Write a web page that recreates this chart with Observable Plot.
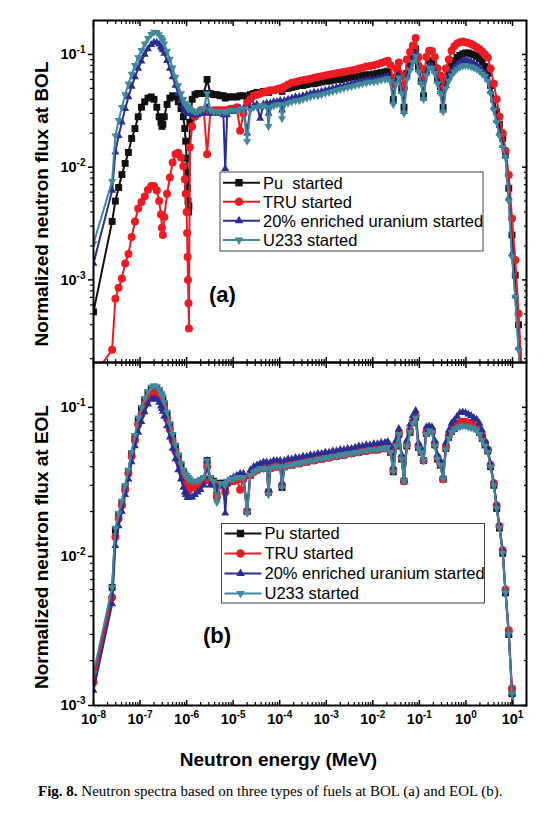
<!DOCTYPE html>
<html><head><meta charset="utf-8">
<script src="https://cdn.jsdelivr.net/npm/d3@7"></script>
<script src="https://cdn.jsdelivr.net/npm/@observablehq/plot@0.6"></script>
<style>
body{margin:0;background:#fff;}
#wrap{position:relative;width:545px;height:815px;font-family:"Liberation Sans",Arial,sans-serif;overflow:hidden;}
.ytitle{position:absolute;width:360px;text-align:center;font-weight:bold;font-size:19px;line-height:22px;transform:rotate(-90deg);white-space:nowrap;}
.xtitle{position:absolute;left:0;width:545px;text-align:center;font-weight:bold;font-size:19px;line-height:22px;}
.plabel{position:absolute;font-weight:bold;font-size:22px;line-height:26px;}
.caption{position:absolute;left:38px;top:783px;font-family:"Liberation Serif","Times New Roman",serif;font-size:15px;white-space:nowrap;}
</style></head><body><div id="wrap"></div><script>
// log10 of neutron energy (MeV) for each group point
const logEnergy = [-8.00,-7.60,-7.53,-7.46,-7.39,-7.32,-7.25,-7.18,-7.11,-7.04,
 -6.97,-6.90,-6.83,-6.76,-6.70,-6.64,-6.59,-6.55,-6.53,-6.51,
 -6.48,-6.42,-6.36,-6.30,-6.24,-6.18,-6.12,-6.07,-6.04,-6.02,
 -6.00,-5.99,-5.98,-5.97,-5.96,-5.95,-5.93,-5.88,-5.82,-5.76,
 -5.70,-5.63,-5.56,-5.49,-5.42,-5.35,-5.28,-5.21,-5.17,-5.13,
 -5.06,-4.99,-4.92,-4.85,-4.78,-4.70,-4.63,-4.56,-4.49,-4.42,
 -4.35,-4.28,-4.24,-4.20,-4.13,-4.06,-3.99,-3.95,-3.90,-3.82,
 -3.74,-3.66,-3.58,-3.50,-3.42,-3.34,-3.26,-3.18,-3.10,-3.02,
 -2.94,-2.86,-2.78,-2.70,-2.62,-2.54,-2.46,-2.38,-2.30,-2.22,
 -2.14,-2.06,-1.98,-1.90,-1.82,-1.74,-1.68,-1.62,-1.56,-1.50,
 -1.44,-1.38,-1.33,-1.27,-1.20,-1.14,-1.08,-1.02,-0.96,-0.91,
 -0.85,-0.79,-0.73,-0.67,-0.61,-0.55,-0.49,-0.43,-0.37,-0.31,
 -0.25,-0.19,-0.13,-0.07,-0.01,0.05,0.11,0.17,0.23,0.29,
 0.35,0.41,0.47,0.53,0.60,0.66,0.72,0.79,0.85,0.92,
 0.99,1.06,1.13,1.20];

// (a) BOL
const bolPu = [0.00052,0.0033,0.005,0.0066,0.0086,0.0108,0.0135,0.018,0.022,0.028,
 0.034,0.038,0.041,0.042,0.040,0.034,0.028,0.025,0.023,0.024,
 0.028,0.036,0.041,0.043,0.042,0.038,0.033,0.028,0.022,0.017,
 0.012,0.009,0.0065,0.005,0.004,0.0045,0.025,0.040,0.044,0.045,
 0.045,0.045,0.060,0.045,0.044,0.044,0.043,0.043,0.041,0.042,
 0.042,0.042,0.042,0.043,0.043,0.040,0.044,0.045,0.046,0.046,
 0.047,0.047,0.046,0.048,0.048,0.049,0.049,0.047,0.050,0.050,
 0.051,0.052,0.053,0.053,0.054,0.055,0.055,0.056,0.057,0.058,
 0.058,0.059,0.060,0.060,0.061,0.062,0.063,0.063,0.064,0.065,
 0.066,0.066,0.067,0.068,0.069,0.070,0.071,0.062,0.040,0.062,
 0.068,0.050,0.034,0.068,0.083,0.098,0.112,0.078,0.058,0.043,
 0.072,0.088,0.086,0.076,0.062,0.052,0.034,0.058,0.070,0.080,
 0.088,0.094,0.098,0.101,0.103,0.103,0.101,0.099,0.096,0.092,
 0.086,0.078,0.068,0.053,0.040,0.031,0.024,0.018,0.013,0.0065,
 0.0025,0.0011,0.0004,0.00015];
const bolTRU = [0.00014,0.00024,0.00068,0.00085,0.00103,0.0014,0.0017,0.0024,0.0033,0.0043,
 0.0049,0.0055,0.0063,0.0068,0.0068,0.0062,0.005,0.0038,0.0029,0.0025,
 0.0036,0.0058,0.0081,0.011,0.013,0.0134,0.0122,0.0102,0.0078,0.0058,
 0.0040,0.0026,0.0016,0.001,0.00062,0.00037,0.015,0.023,0.028,0.030,
 0.032,0.032,0.013,0.031,0.032,0.032,0.032,0.032,0.031,0.032,
 0.033,0.033,0.034,0.021,0.030,0.037,0.040,0.043,0.044,0.045,
 0.046,0.047,0.047,0.048,0.048,0.049,0.050,0.049,0.052,0.054,
 0.056,0.057,0.058,0.059,0.060,0.061,0.062,0.063,0.064,0.065,
 0.066,0.067,0.068,0.069,0.070,0.071,0.072,0.073,0.075,0.076,
 0.078,0.079,0.080,0.082,0.084,0.086,0.088,0.080,0.055,0.075,
 0.085,0.065,0.050,0.090,0.105,0.120,0.140,0.095,0.075,0.060,
 0.095,0.108,0.107,0.095,0.075,0.065,0.050,0.075,0.090,0.108,
 0.118,0.125,0.128,0.130,0.128,0.126,0.124,0.120,0.116,0.112,
 0.106,0.100,0.094,0.075,0.055,0.040,0.028,0.020,0.014,0.0085,
 0.0035,0.0015,0.0005,0.00015];
const bolU20 = [0.0014,0.0062,0.0136,0.019,0.025,0.033,0.042,0.052,0.063,0.075,
 0.087,0.100,0.112,0.122,0.128,0.128,0.123,0.117,0.113,0.109,
 0.102,0.088,0.075,0.063,0.053,0.045,0.039,0.035,0.033,0.032,
 0.031,0.031,0.030,0.030,0.030,0.030,0.030,0.029,0.029,0.029,
 0.030,0.030,0.034,0.030,0.030,0.030,0.030,0.029,0.0097,0.029,
 0.031,0.031,0.032,0.033,0.033,0.020,0.034,0.035,0.036,0.027,
 0.036,0.037,0.030,0.037,0.038,0.038,0.039,0.032,0.039,0.040,
 0.041,0.042,0.042,0.043,0.044,0.045,0.046,0.046,0.047,0.048,
 0.049,0.050,0.051,0.052,0.053,0.054,0.055,0.056,0.057,0.058,
 0.059,0.060,0.060,0.061,0.062,0.063,0.064,0.060,0.038,0.058,
 0.065,0.047,0.031,0.063,0.076,0.089,0.101,0.073,0.057,0.041,
 0.068,0.080,0.079,0.071,0.058,0.047,0.032,0.053,0.062,0.070,
 0.076,0.081,0.085,0.088,0.089,0.088,0.086,0.084,0.081,0.077,
 0.072,0.067,0.060,0.047,0.034,0.026,0.020,0.0155,0.0125,0.0053,
 0.0017,0.00072,0.00025,0.0001];
const bolU233 = [0.0021,0.0075,0.019,0.026,0.034,0.044,0.055,0.067,0.080,0.094,
 0.109,0.124,0.139,0.151,0.158,0.157,0.150,0.142,0.137,0.132,
 0.124,0.107,0.091,0.076,0.063,0.053,0.045,0.040,0.037,0.036,
 0.035,0.034,0.034,0.034,0.033,0.033,0.033,0.032,0.031,0.031,
 0.032,0.033,0.045,0.032,0.031,0.031,0.031,0.031,0.031,0.031,
 0.032,0.032,0.032,0.033,0.033,0.017,0.032,0.034,0.034,0.035,
 0.035,0.034,0.023,0.034,0.035,0.036,0.036,0.027,0.036,0.037,
 0.038,0.039,0.039,0.040,0.041,0.042,0.043,0.043,0.044,0.045,
 0.046,0.047,0.048,0.049,0.050,0.051,0.052,0.053,0.054,0.055,
 0.056,0.057,0.057,0.058,0.059,0.060,0.061,0.058,0.036,0.055,
 0.062,0.045,0.030,0.060,0.072,0.085,0.097,0.070,0.055,0.040,
 0.065,0.076,0.075,0.068,0.055,0.045,0.031,0.050,0.058,0.065,
 0.070,0.074,0.077,0.079,0.080,0.079,0.078,0.076,0.074,0.071,
 0.067,0.064,0.058,0.045,0.032,0.025,0.019,0.015,0.0123,0.005,
 0.0016,0.0007,0.00024,0.0001];

// (b) EOL
const eolPu = [0.0015,0.0062,0.015,0.019,0.023,0.029,0.037,0.049,0.063,0.082,
 0.097,0.111,0.124,0.133,0.136,0.134,0.128,0.121,0.117,0.113,
 0.105,0.090,0.076,0.064,0.054,0.047,0.041,0.037,0.035,0.034,
 0.033,0.032,0.032,0.032,0.031,0.031,0.031,0.031,0.031,0.031,
 0.032,0.033,0.044,0.033,0.032,0.026,0.031,0.031,0.029,0.031,
 0.032,0.033,0.033,0.033,0.034,0.020,0.035,0.037,0.038,0.039,
 0.039,0.039,0.027,0.039,0.040,0.040,0.040,0.029,0.040,0.041,
 0.041,0.042,0.042,0.043,0.043,0.044,0.044,0.045,0.045,0.046,
 0.046,0.047,0.047,0.048,0.048,0.049,0.049,0.050,0.050,0.051,
 0.051,0.052,0.052,0.052,0.053,0.053,0.054,0.050,0.037,0.055,
 0.066,0.045,0.032,0.055,0.068,0.079,0.086,0.054,0.050,0.044,
 0.067,0.071,0.069,0.056,0.045,0.041,0.033,0.053,0.063,0.069,
 0.072,0.075,0.076,0.077,0.077,0.076,0.075,0.074,0.072,0.068,
 0.062,0.056,0.051,0.040,0.030,0.021,0.0155,0.0105,0.0057,0.003,
 0.0012,0.0005,0.0002,0.0001];
const eolTRU = [0.00143,0.0053,0.0135,0.018,0.022,0.028,0.036,0.047,0.060,0.077,
 0.090,0.104,0.116,0.123,0.125,0.123,0.118,0.112,0.108,0.104,
 0.097,0.084,0.071,0.060,0.051,0.044,0.038,0.034,0.032,0.031,
 0.030,0.029,0.028,0.028,0.028,0.028,0.029,0.029,0.029,0.030,
 0.031,0.032,0.040,0.032,0.031,0.025,0.030,0.030,0.027,0.031,
 0.032,0.032,0.033,0.028,0.033,0.020,0.035,0.037,0.038,0.039,
 0.039,0.039,0.027,0.039,0.040,0.040,0.040,0.030,0.040,0.041,
 0.041,0.042,0.042,0.043,0.043,0.044,0.044,0.045,0.045,0.046,
 0.046,0.047,0.047,0.048,0.048,0.049,0.049,0.050,0.050,0.051,
 0.051,0.052,0.052,0.052,0.053,0.053,0.054,0.051,0.038,0.056,
 0.067,0.046,0.032,0.056,0.070,0.080,0.088,0.055,0.051,0.044,
 0.068,0.072,0.070,0.057,0.046,0.042,0.033,0.054,0.064,0.070,
 0.074,0.077,0.079,0.080,0.080,0.079,0.078,0.076,0.074,0.070,
 0.064,0.058,0.052,0.041,0.031,0.022,0.016,0.011,0.006,0.0032,
 0.0013,0.00055,0.0002,0.0001];
const eolU20 = [0.00126,0.0048,0.0118,0.016,0.020,0.026,0.033,0.043,0.055,0.068,
 0.080,0.093,0.105,0.113,0.115,0.113,0.108,0.102,0.098,0.094,
 0.087,0.075,0.063,0.053,0.045,0.038,0.033,0.029,0.027,0.026,
 0.026,0.026,0.025,0.025,0.025,0.025,0.025,0.025,0.026,0.027,
 0.028,0.030,0.044,0.030,0.030,0.029,0.030,0.030,0.0195,0.031,
 0.033,0.034,0.035,0.036,0.036,0.020,0.038,0.040,0.041,0.042,
 0.043,0.043,0.028,0.043,0.044,0.044,0.044,0.031,0.044,0.045,
 0.045,0.046,0.046,0.047,0.047,0.048,0.048,0.049,0.049,0.050,
 0.050,0.051,0.051,0.052,0.052,0.053,0.053,0.054,0.055,0.055,
 0.056,0.056,0.057,0.057,0.058,0.058,0.059,0.055,0.040,0.060,
 0.072,0.048,0.033,0.060,0.077,0.088,0.095,0.058,0.053,0.045,
 0.074,0.075,0.074,0.060,0.048,0.044,0.034,0.058,0.070,0.078,
 0.082,0.087,0.092,0.093,0.092,0.090,0.088,0.085,0.083,0.078,
 0.070,0.060,0.053,0.042,0.031,0.022,0.016,0.011,0.0058,0.003,
 0.0012,0.0005,0.0002,0.0001];
const eolU233 = [0.00165,0.0062,0.0155,0.0195,0.0235,0.030,0.038,0.050,0.065,0.085,
 0.100,0.115,0.128,0.137,0.140,0.138,0.132,0.125,0.121,0.117,
 0.108,0.093,0.078,0.066,0.056,0.048,0.042,0.038,0.036,0.035,
 0.035,0.034,0.034,0.034,0.033,0.033,0.033,0.032,0.032,0.032,
 0.033,0.034,0.044,0.034,0.032,0.023,0.031,0.031,0.030,0.032,
 0.033,0.033,0.034,0.034,0.034,0.0195,0.035,0.037,0.038,0.039,
 0.039,0.039,0.026,0.039,0.040,0.040,0.040,0.029,0.040,0.041,
 0.041,0.042,0.042,0.043,0.043,0.044,0.044,0.045,0.045,0.046,
 0.046,0.047,0.047,0.048,0.048,0.049,0.049,0.050,0.050,0.051,
 0.051,0.052,0.052,0.052,0.053,0.053,0.054,0.050,0.037,0.055,
 0.066,0.045,0.032,0.055,0.068,0.078,0.085,0.053,0.050,0.044,
 0.066,0.070,0.068,0.055,0.045,0.041,0.033,0.052,0.062,0.068,
 0.071,0.073,0.074,0.075,0.075,0.074,0.073,0.072,0.070,0.066,
 0.060,0.055,0.050,0.040,0.030,0.021,0.0155,0.0105,0.0057,0.003,
 0.0012,0.0005,0.0002,0.0001];

const legendTop = ["Pu  started", "TRU started", "20% enriched uranium started", "U233 started"];
const legendBottom = ["Pu started", "TRU started", "20% enriched uranium started", "U233 started"];
const colors = ["#111111", "#ec1c24", "#2b2e90", "#40889a"];
const symbols = ["square", "circle", "triangle2", "triangle2"];
const rotations = [0, 0, 0, 180];
const radii = [3.9, 4.0, 3.8, 3.8];

const xMajor = [1e-8, 1e-7, 1e-6, 1e-5, 1e-4, 1e-3, 1e-2, 1e-1, 1e0, 1e1];
const yMajor = [1e-3, 1e-2, 1e-1];
const xDomain = [1e-8, 20];
const yDomainTop = [1.85e-4, 0.2];
const yDomainBottom = [1e-3, 0.2];

const minorsOf = (majors, lo, hi) =>
  majors.flatMap(m => [2,3,4,5,6,7,8,9].map(k => k * m)).filter(v => v > lo && v < hi);
const xMinor = minorsOf([1e-9, ...xMajor], xDomain[0], xDomain[1]);
const fmt = d => "10^" + Math.round(Math.log10(d));
const blank = () => "";

function rowsOf(vals) {
  return logEnergy.map((le, i) => ({E: Math.pow(10, le), v: vals[i]}));
}

function seriesMarks(list) {
  const marks = [];
  list.forEach((vals, s) => {
    const rows = rowsOf(vals);
    marks.push(Plot.line(rows, {x: "E", y: "v", stroke: colors[s], strokeWidth: 2, clip: true}));
    marks.push(Plot.dot(rows, {x: "E", y: "v", symbol: symbols[s], r: radii[s], rotate: rotations[s], fill: colors[s], clip: true}));
  });
  return marks;
}

function axisMarks(yDomain, withXLabels) {
  const yMinor = minorsOf([1e-4, ...yMajor], yDomain[0], yDomain[1]);
  const ff = {fontSize: 14.5, fontWeight: "bold"};
  const m = [
    Plot.frame({strokeWidth: 2}),
    Plot.axisY(yMajor, {anchor: "left", tickSize: 5, tickPadding: 3, tickFormat: fmt, label: null, strokeWidth: 1.5, ...ff}),
    Plot.axisY(yMinor, {anchor: "left", tickSize: 3, tickFormat: blank, label: null, strokeWidth: 1.2}),
    Plot.axisY(yMajor, {anchor: "right", tickSize: -5, tickFormat: blank, label: null, strokeWidth: 1.5}),
    Plot.axisY(yMinor, {anchor: "right", tickSize: -3, tickFormat: blank, label: null, strokeWidth: 1.2}),
    Plot.axisX(xMajor, {anchor: "top", tickSize: -5, tickFormat: blank, label: null, strokeWidth: 1.5}),
    Plot.axisX(xMinor, {anchor: "top", tickSize: -3, tickFormat: blank, label: null, strokeWidth: 1.2}),
    Plot.axisX(xMajor, {anchor: "bottom", tickSize: -5, tickFormat: blank, label: null, strokeWidth: 1.5}),
    Plot.axisX(xMinor, {anchor: "bottom", tickSize: -3, tickFormat: blank, label: null, strokeWidth: 1.2})
  ];
  if (withXLabels) {
    m.push(Plot.axisX(xMajor, {anchor: "bottom", tickSize: 0, tickPadding: 8, tickFormat: fmt, label: null, ...ff}));
  }
  return m;
}

function superscripts(svg) {
  const ns = "http://www.w3.org/2000/svg";
  svg.querySelectorAll("text").forEach(t => {
    const m = /^10\^(-?\d+)$/.exec(t.textContent);
    if (m) {
      t.textContent = "10";
      const ts = document.createElementNS(ns, "tspan");
      ts.setAttribute("dy", "-6");
      ts.setAttribute("font-size", "10");
      ts.textContent = m[1];
      t.appendChild(ts);
    }
  });
}

const baseStyle = {background: "transparent", overflow: "visible", position: "absolute", left: "0px",
  fontFamily: '"Liberation Sans", Arial, sans-serif', color: "#000"};

const wrap = document.getElementById("wrap");

const topPlot = Plot.plot({
  width: 545, height: 364, marginLeft: 93, marginRight: 19, marginTop: 20, marginBottom: 2,
  x: {type: "log", domain: xDomain},
  y: {type: "log", domain: yDomainTop},
  style: {...baseStyle, top: "0px"},
  marks: [...seriesMarks([bolPu, bolTRU, bolU20, bolU233]), ...axisMarks(yDomainTop, false)]
});
superscripts(topPlot);
wrap.appendChild(topPlot);

const bottomPlot = Plot.plot({
  width: 545, height: 420, marginLeft: 93, marginRight: 19, marginTop: 2, marginBottom: 75,
  x: {type: "log", domain: xDomain},
  y: {type: "log", domain: yDomainBottom},
  style: {...baseStyle, top: "360px"},
  marks: [...seriesMarks([eolPu, eolTRU, eolU20, eolU233]), ...axisMarks(yDomainBottom, true)]
});
superscripts(bottomPlot);
wrap.appendChild(bottomPlot);

// overlay: legends
const overlay = d3.select(wrap).append("svg")
  .attr("width", 545).attr("height", 815)
  .style("position", "absolute").style("left", "0px").style("top", "0px")
  .style("pointer-events", "none");

const d3sym = {square: d3.symbolSquare, circle: d3.symbolCircle, triangle2: d3.symbolTriangle2};
function drawLegend(names, x0, y0, w, h, rowYs) {
  const g = overlay.append("g").attr("transform", `translate(${x0},${y0})`);
  g.append("rect").attr("x", 0).attr("y", 0).attr("width", w).attr("height", h)
    .attr("fill", "none").attr("stroke", "#444").attr("stroke-width", 1);
  names.forEach((name, i) => {
    const y = rowYs[i];
    g.append("line").attr("x1", 3).attr("x2", 40).attr("y1", y).attr("y2", y)
      .attr("stroke", colors[i]).attr("stroke-width", 2);
    g.append("path")
      .attr("d", d3.symbol(d3sym[symbols[i]], Math.PI * radii[i] * radii[i] * 1.15)())
      .attr("transform", `translate(19,${y}) rotate(${rotations[i]})`)
      .attr("fill", colors[i]);
    g.append("text").attr("x", 43).attr("y", y).attr("dy", "0.36em")
      .attr("font-size", 16.5).attr("font-family", '"Liberation Sans", Arial, sans-serif')
      .style("white-space", "pre").text(name);
  });
}
drawLegend(legendTop, 220, 172, 263, 79, [10.7, 29.7, 48.7, 68]);
drawLegend(legendBottom, 221.5, 523.5, 263, 79.5, [10, 30, 50, 70]);

// titles and labels
function addDiv(cls, html, css) {
  const d = document.createElement("div");
  d.className = cls; d.innerHTML = html;
  Object.assign(d.style, css);
  wrap.appendChild(d);
}
addDiv("ytitle", "Normalized neutron flux at BOL", {left: (42 - 180) + "px", top: (204 - 11) + "px"});
addDiv("ytitle", "Normalized neutron flux at EOL", {left: (42 - 180) + "px", top: (547 - 11) + "px"});
addDiv("xtitle", "Neutron energy (MeV)", {top: (760 - 11) + "px", left: "6px"});
addDiv("plabel", "(a)", {left: "209px", top: (295 - 13) + "px"});
addDiv("plabel", "(b)", {left: "203px", top: (636 - 13) + "px"});
addDiv("caption", "<b>Fig. 8.</b> Neutron spectra based on three types of fuels at BOL (a) and EOL (b).", {});
</script></body></html>
